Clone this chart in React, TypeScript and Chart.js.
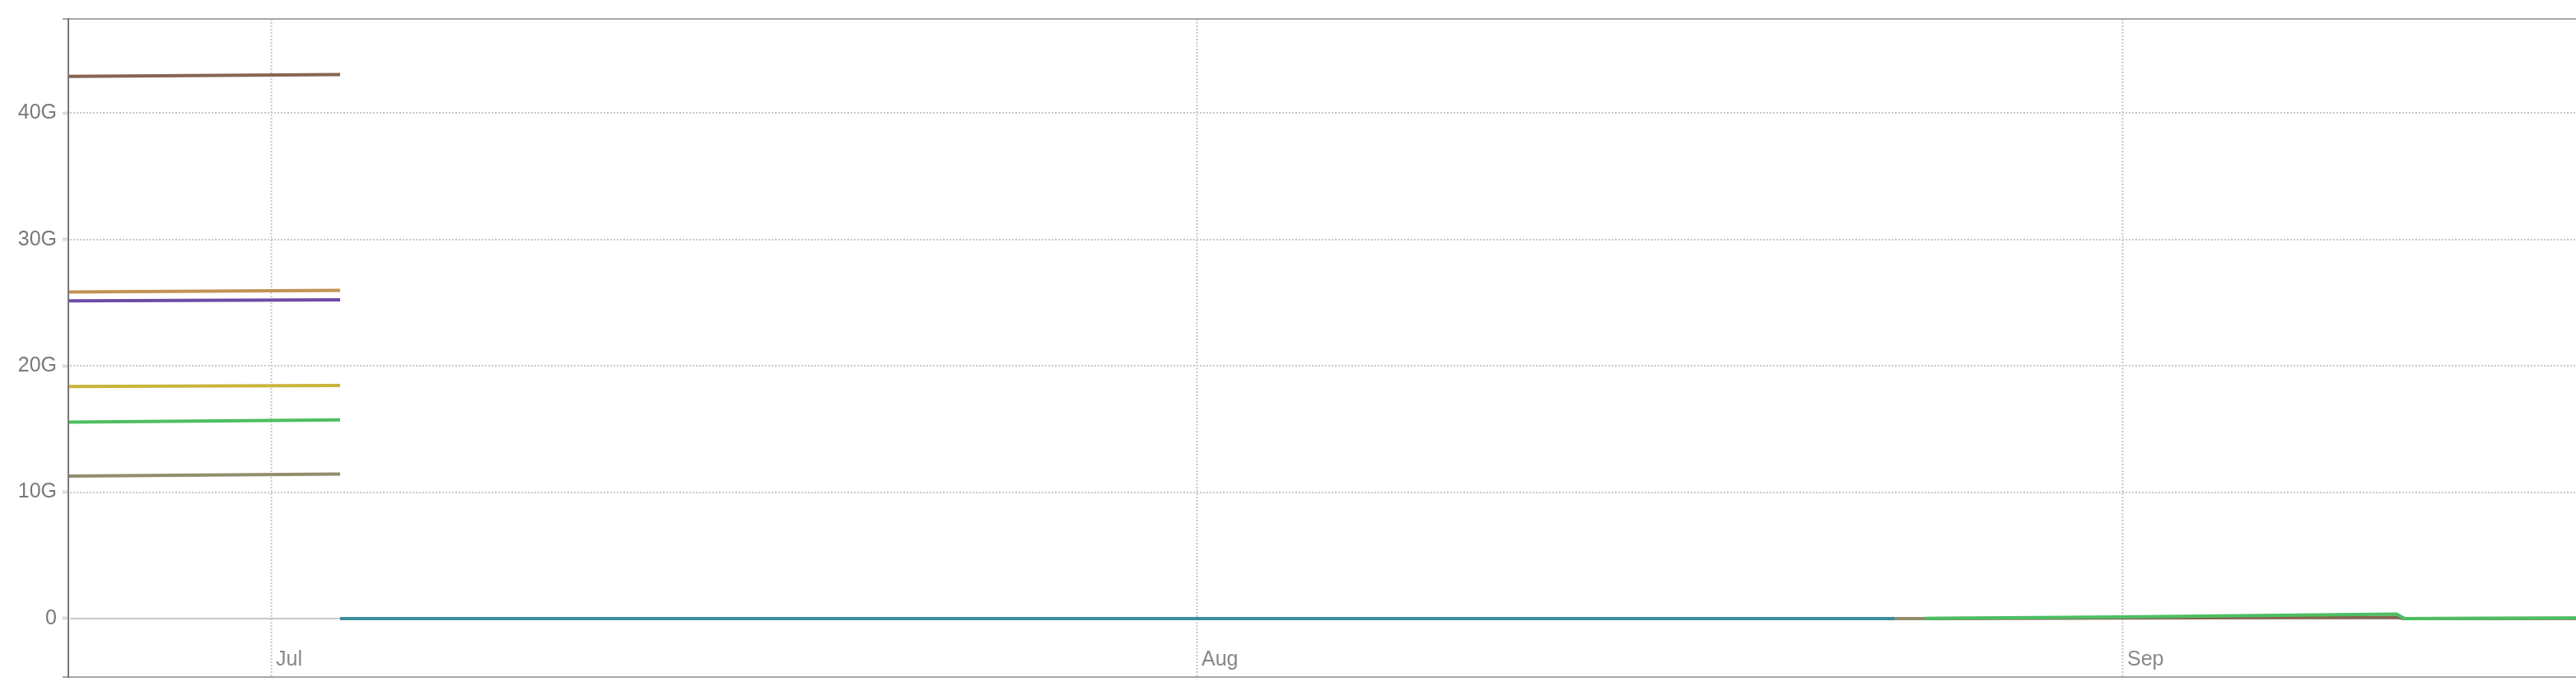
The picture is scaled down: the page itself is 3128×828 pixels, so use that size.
import React, { useEffect, useRef } from 'react';
import { Chart, registerables } from 'chart.js';

Chart.register(...registerables);

// visible time window
const rangeStart = '2023-06-24T05:50:00Z';
const rangeEnd = '2023-09-16T04:44:00Z';

// x axis month ticks
const monthTicks = ['2023-07-01T00:00:00Z', '2023-08-01T00:00:00Z', '2023-09-01T00:00:00Z'];
const monthLabels = ['Jul', 'Aug', 'Sep'];

// y axis (values in G)
const yMin = -4.63;
const yMax = 47.45;
const yStep = 10;

type Pt = [string, number | null];

// series values (in G)
const greenSeries: Pt[] = [
  ['2023-06-24T05:50:00Z', 15.55],
  ['2023-07-03T07:36:00Z', 15.72],
  ['2023-07-03T07:37:00Z', null],
  ['2023-08-25T09:36:00Z', 0.01],
  ['2023-09-01T00:00:00Z', 0.13],
  ['2023-09-10T04:25:00Z', 0.36],
  ['2023-09-10T11:00:00Z', 0.0],
  ['2023-09-16T04:44:00Z', 0.05],
];
const brownSeries: Pt[] = [
  ['2023-06-24T05:50:00Z', 42.9],
  ['2023-07-03T07:36:00Z', 43.05],
  ['2023-07-03T07:37:00Z', null],
  ['2023-08-25T09:36:00Z', 0.0],
  ['2023-09-01T00:00:00Z', 0.04],
  ['2023-09-10T04:25:00Z', 0.1],
  ['2023-09-10T11:00:00Z', 0.0],
  ['2023-09-16T04:44:00Z', 0.02],
];
const tanSeries: Pt[] = [
  ['2023-06-24T05:50:00Z', 25.84],
  ['2023-07-03T07:36:00Z', 25.97],
];
const purpleSeries: Pt[] = [
  ['2023-06-24T05:50:00Z', 25.14],
  ['2023-07-03T07:36:00Z', 25.23],
];
const yellowSeries: Pt[] = [
  ['2023-06-24T05:50:00Z', 18.36],
  ['2023-07-03T07:36:00Z', 18.45],
];
const oliveSeries: Pt[] = [
  ['2023-06-24T05:50:00Z', 11.28],
  ['2023-07-03T07:36:00Z', 11.43],
  ['2023-07-03T07:37:00Z', null],
  ['2023-08-24T09:46:00Z', 0.0],
  ['2023-08-25T09:36:00Z', 0.0],
];
const tealSeries: Pt[] = [
  ['2023-07-03T07:36:00Z', 0.0],
  ['2023-08-24T09:46:00Z', 0.0],
];

const seriesList: { pts: Pt[]; color: string }[] = [
  { pts: greenSeries, color: '#4dbf63' },
  { pts: brownSeries, color: '#876651' },
  { pts: tanSeries, color: '#c39355' },
  { pts: purpleSeries, color: '#6f4ba8' },
  { pts: yellowSeries, color: '#c9b53b' },
  { pts: oliveSeries, color: '#908e6d' },
  { pts: tealSeries, color: '#3d8d9d' },
];

const FONT = '"Liberation Sans", Arial, Helvetica, sans-serif';

const gridPlugin = {
  id: 'customGrid',
  beforeDatasetsDraw(chart: any) {
    const { ctx, chartArea } = chart;
    const xs = chart.scales.x;
    const ys = chart.scales.y;
    const { left, right, top, bottom } = chartArea;
    ctx.save();
    ctx.lineWidth = 2;
    // horizontal grid
    ys.ticks.forEach((t: any) => {
      const py = Math.round(ys.getPixelForValue(t.value));
      ctx.beginPath();
      ctx.strokeStyle = '#c8c8c8';
      ctx.setLineDash(t.value === 0 ? [] : [2, 2]);
      ctx.moveTo(left + 1, py);
      ctx.lineTo(right, py);
      ctx.stroke();
    });
    // vertical grid
    monthTicks.forEach((m) => {
      const px = Math.round(xs.getPixelForValue(Date.parse(m))) + 0.5;
      ctx.beginPath();
      ctx.strokeStyle = '#c8c8c8';
      ctx.setLineDash([2, 2]);
      ctx.moveTo(px, top);
      ctx.lineTo(px, bottom);
      ctx.stroke();
    });
    ctx.setLineDash([]);
    // top & bottom frame lines
    ctx.strokeStyle = '#a8a8a8';
    ctx.beginPath();
    ctx.moveTo(left - 8, top);
    ctx.lineTo(right, top);
    ctx.moveTo(left - 8, bottom);
    ctx.lineTo(right, bottom);
    ctx.stroke();
    // y axis line
    ctx.strokeStyle = '#777777';
    ctx.beginPath();
    ctx.moveTo(left - 1, top - 1);
    ctx.lineTo(left - 1, bottom + 1);
    ctx.stroke();
    // month labels
    ctx.fillStyle = '#888888';
    ctx.font = `25px ${FONT}`;
    ctx.textBaseline = 'alphabetic';
    ctx.textAlign = 'left';
    monthTicks.forEach((m, i) => {
      const px = xs.getPixelForValue(Date.parse(m));
      ctx.fillText(monthLabels[i], px + 6, bottom - 14);
    });
    ctx.restore();
  },
};

export default function App() {
  const ref = useRef<HTMLCanvasElement | null>(null);
  useEffect(() => {
    document.body.style.margin = '0';
    const canvas = ref.current!;
    const chart = new Chart(canvas, {
      type: 'line',
      data: {
        datasets: seriesList.map((s) => ({
          data: s.pts.map(([t, v]) => ({ x: Date.parse(t), y: v })),
          borderColor: s.color,
          backgroundColor: s.color,
          borderWidth: 4,
          pointRadius: 0,
          tension: 0,
          fill: false,
          spanGaps: false,
          borderCapStyle: 'butt',
        })) as any,
      },
      options: {
        animation: false,
        responsive: false,
        devicePixelRatio: 1,
        layout: { padding: { top: 23, bottom: 6, left: 0, right: 0 } },
        plugins: { legend: { display: false }, tooltip: { enabled: false } },
        scales: {
          x: {
            type: 'linear',
            min: Date.parse(rangeStart),
            max: Date.parse(rangeEnd),
            display: false,
          },
          y: {
            type: 'linear',
            min: yMin,
            max: yMax,
            afterFit: (scale: any) => {
              scale.width = 84;
              scale.paddingTop = 0;
              scale.paddingBottom = 0;
            },
            ticks: {
              stepSize: yStep,
              includeBounds: false,
              padding: 7,
              color: '#7a7a7a',
              font: { family: FONT, size: 25 },
              callback: (v: any) => (v === 0 ? '0' : `${Math.round(v)}G`),
            },
            grid: {
              display: true,
              drawOnChartArea: false,
              drawTicks: true,
              tickLength: 8,
              tickWidth: 4,
              tickColor: '#dcdcdc',
            },
            border: { display: false },
          },
        },
      },
      plugins: [gridPlugin],
    });
    return () => chart.destroy();
  }, []);
  return (
    <canvas
      ref={ref}
      width={3128}
      height={828}
      style={{ display: 'block', width: '3128px', height: '828px' }}
    />
  );
}
